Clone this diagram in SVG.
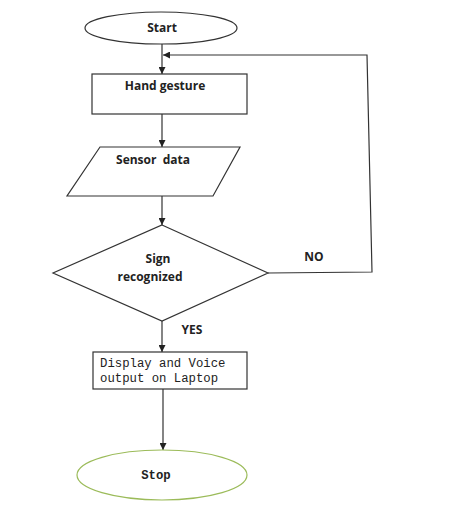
<svg xmlns="http://www.w3.org/2000/svg" width="470" height="510" viewBox="0 0 470 510">
<defs>
<style>
.s{fill:#fff;stroke:#333;stroke-width:1.2}
.l{fill:none;stroke:#333;stroke-width:1.2}
.t{font-family:"Open Sans","Liberation Sans",sans-serif;font-weight:bold;font-size:12px;fill:#222;text-anchor:middle}
.m{font-family:"Liberation Mono",monospace;font-size:12.3px;fill:#222}
</style>
<marker id="a" viewBox="0 0 10 10" refX="10" refY="5" markerWidth="7" markerHeight="7" orient="auto" markerUnits="userSpaceOnUse"><path d="M0,0 L10,5 L0,10 z" fill="#222"/></marker>
</defs>
<rect width="470" height="510" fill="#fff"/>
<g id="connectors">
<line class="l" x1="162" y1="44" x2="162" y2="74" marker-end="url(#a)"/>
<line class="l" x1="162" y1="114" x2="162" y2="147" marker-end="url(#a)"/>
<line class="l" x1="162" y1="196" x2="162" y2="225" marker-end="url(#a)"/>
<polyline class="l" points="268,273 372,272 367,55 163,55" marker-end="url(#a)"/>
<line class="l" x1="162" y1="321" x2="162" y2="352" marker-end="url(#a)"/>
<line class="l" x1="163" y1="389" x2="163" y2="450" marker-end="url(#a)"/>
<text class="t" x="314" y="261">NO</text>
<text class="t" x="192" y="334">YES</text>
</g>
<g id="start">
<ellipse class="s" cx="161" cy="28" rx="76" ry="16"/>
<text class="t" x="162" y="32">Start</text>
</g>
<g id="hand">
<rect class="s" x="92" y="74" width="155" height="40"/>
<text class="t" x="165" y="90">Hand gesture</text>
</g>
<g id="sensor">
<polygon class="s" points="100,147 240,147 213,196 67,196"/>
<text class="t" x="153" y="164" xml:space="preserve">Sensor  data</text>
</g>
<g id="decision">
<polygon class="s" points="162,225 268,273 162,321 53,273"/>
<text class="t" x="158" y="263">Sign</text>
<text class="t" x="150" y="281">recognized</text>
</g>
<g id="display">
<rect class="s" x="93" y="352" width="154" height="37"/>
<text class="m" x="100" y="367">Display and Voice</text>
<text class="m" x="100" y="382">output on Laptop</text>
</g>
<g id="stop">
<ellipse cx="162" cy="475" rx="85" ry="25" fill="#fff" stroke="#9bbb59" stroke-width="1.2"/>
<text class="m" x="156" y="479" text-anchor="middle" font-weight="bold">Stop</text>
</g>
</svg>
